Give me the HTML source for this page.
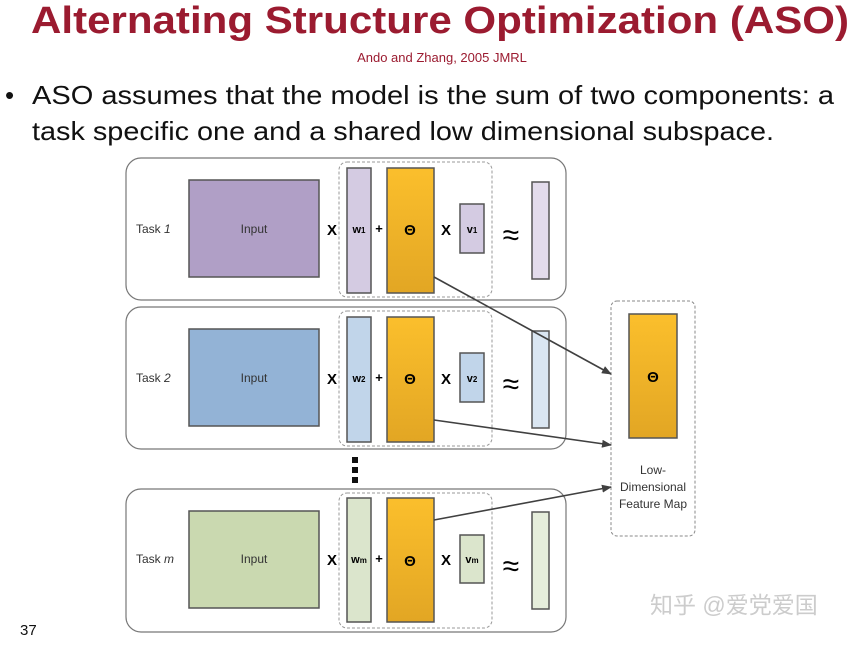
<!DOCTYPE html>
<html><head><style>
html,body{margin:0;padding:0;background:#fff;}
svg text{font-family:"Liberation Sans","Noto Sans CJK SC",sans-serif;}
</style></head><body>
<svg width="857" height="640" viewBox="0 0 857 640" xmlns="http://www.w3.org/2000/svg">
<defs>
<linearGradient id="og" x1="0" y1="0" x2="0" y2="1"><stop offset="0" stop-color="#fbbf2c"/><stop offset="1" stop-color="#e2a624"/></linearGradient>
<marker id="ah" markerWidth="10" markerHeight="8" refX="9" refY="4" orient="auto" markerUnits="userSpaceOnUse"><path d="M0,0 L10,4 L0,8 z" fill="#404040"/></marker>
</defs>
<text x="440" y="33" text-anchor="middle" font-size="38" font-weight="bold" fill="#9b1b30" textLength="818" lengthAdjust="spacingAndGlyphs">Alternating Structure Optimization (ASO)</text>
<text x="442" y="62" text-anchor="middle" font-size="13" fill="#9b1b30">Ando and Zhang, 2005 JMRL</text>
<text x="5" y="104" font-size="26" fill="#111">•</text>
<text x="32" y="104" font-size="26" fill="#111" textLength="802" lengthAdjust="spacingAndGlyphs">ASO assumes that the model is the sum of two components: a</text>
<text x="32" y="140" font-size="26" fill="#111" textLength="742" lengthAdjust="spacingAndGlyphs">task specific one and a shared low dimensional subspace.</text>

<g>
<rect x="126" y="158" width="440" height="142" rx="15" fill="#fff" stroke="#777" stroke-width="1.2"/>
<rect x="339" y="162" width="153" height="135" rx="8" fill="none" stroke="#999" stroke-dasharray="3,2"/>
<text x="136" y="233" font-size="12" fill="#333">Task <tspan font-style="italic">1</tspan></text>
<rect x="189" y="180" width="130" height="97" fill="#b09fc6" stroke="#555" stroke-width="1.5"/>
<text x="254" y="233" font-size="12" text-anchor="middle" fill="#333">Input</text>
<text x="332" y="235" font-size="15" font-weight="bold" text-anchor="middle">X</text>
<rect x="347" y="168" width="24" height="125" fill="#d4cbe2" stroke="#555" stroke-width="1.5"/>
<text x="359" y="233" font-size="11" font-weight="bold" text-anchor="middle">w<tspan font-size="8">1</tspan></text>
<text x="379" y="233" font-size="13" font-weight="bold" text-anchor="middle">+</text>
<rect x="387" y="168" width="47" height="125" fill="url(#og)" stroke="#555" stroke-width="1.5"/>
<text x="410" y="235" font-size="15" font-weight="bold" text-anchor="middle">Θ</text>
<text x="446" y="235" font-size="15" font-weight="bold" text-anchor="middle">X</text>
<rect x="460" y="204" width="24" height="49" fill="#d4cbe2" stroke="#555" stroke-width="1.5"/>
<text x="472" y="233" font-size="11" font-weight="bold" text-anchor="middle">v<tspan font-size="8">1</tspan></text>
<text x="511" y="245" font-size="30" text-anchor="middle">≈</text>
<rect x="532" y="182" width="17" height="97" fill="#e3dcec" stroke="#555" stroke-width="1.5"/>
</g>

<g>
<rect x="126" y="307" width="440" height="142" rx="15" fill="#fff" stroke="#777" stroke-width="1.2"/>
<rect x="339" y="311" width="153" height="135" rx="8" fill="none" stroke="#999" stroke-dasharray="3,2"/>
<text x="136" y="382" font-size="12" fill="#333">Task <tspan font-style="italic">2</tspan></text>
<rect x="189" y="329" width="130" height="97" fill="#93b3d6" stroke="#555" stroke-width="1.5"/>
<text x="254" y="382" font-size="12" text-anchor="middle" fill="#333">Input</text>
<text x="332" y="384" font-size="15" font-weight="bold" text-anchor="middle">X</text>
<rect x="347" y="317" width="24" height="125" fill="#c1d5ea" stroke="#555" stroke-width="1.5"/>
<text x="359" y="382" font-size="11" font-weight="bold" text-anchor="middle">w<tspan font-size="8">2</tspan></text>
<text x="379" y="382" font-size="13" font-weight="bold" text-anchor="middle">+</text>
<rect x="387" y="317" width="47" height="125" fill="url(#og)" stroke="#555" stroke-width="1.5"/>
<text x="410" y="384" font-size="15" font-weight="bold" text-anchor="middle">Θ</text>
<text x="446" y="384" font-size="15" font-weight="bold" text-anchor="middle">X</text>
<rect x="460" y="353" width="24" height="49" fill="#c1d5ea" stroke="#555" stroke-width="1.5"/>
<text x="472" y="382" font-size="11" font-weight="bold" text-anchor="middle">v<tspan font-size="8">2</tspan></text>
<text x="511" y="394" font-size="30" text-anchor="middle">≈</text>
<rect x="532" y="331" width="17" height="97" fill="#dae6f2" stroke="#555" stroke-width="1.5"/>
</g>

<g fill="#111"><rect x="352" y="457" width="6" height="6"/><rect x="352" y="467" width="6" height="6"/><rect x="352" y="477" width="6" height="6"/></g>

<g>
<rect x="126" y="489" width="440" height="143" rx="15" fill="#fff" stroke="#777" stroke-width="1.2"/>
<rect x="339" y="493" width="153" height="135" rx="8" fill="none" stroke="#999" stroke-dasharray="3,2"/>
<text x="136" y="563" font-size="12" fill="#333">Task <tspan font-style="italic">m</tspan></text>
<rect x="189" y="511" width="130" height="97" fill="#cad9b0" stroke="#555" stroke-width="1.5"/>
<text x="254" y="563" font-size="12" text-anchor="middle" fill="#333">Input</text>
<text x="332" y="565" font-size="15" font-weight="bold" text-anchor="middle">X</text>
<rect x="347" y="498" width="24" height="124" fill="#dbe5cc" stroke="#555" stroke-width="1.5"/>
<text x="359" y="563" font-size="11" font-weight="bold" text-anchor="middle">w<tspan font-size="8">m</tspan></text>
<text x="379" y="563" font-size="13" font-weight="bold" text-anchor="middle">+</text>
<rect x="387" y="498" width="47" height="124" fill="url(#og)" stroke="#555" stroke-width="1.5"/>
<text x="410" y="566" font-size="15" font-weight="bold" text-anchor="middle">Θ</text>
<text x="446" y="565" font-size="15" font-weight="bold" text-anchor="middle">X</text>
<rect x="460" y="535" width="24" height="48" fill="#dbe5cc" stroke="#555" stroke-width="1.5"/>
<text x="472" y="563" font-size="11" font-weight="bold" text-anchor="middle">v<tspan font-size="8">m</tspan></text>
<text x="511" y="576" font-size="30" text-anchor="middle">≈</text>
<rect x="532" y="512" width="17" height="97" fill="#e6eedc" stroke="#555" stroke-width="1.5"/>
</g>

<rect x="611" y="301" width="84" height="235" rx="6" fill="none" stroke="#888" stroke-dasharray="3,2"/>
<rect x="629" y="314" width="48" height="124" fill="url(#og)" stroke="#555" stroke-width="1.5"/>
<text x="653" y="382" font-size="15" font-weight="bold" text-anchor="middle">Θ</text>
<text x="653" y="474" font-size="12" text-anchor="middle" fill="#333">Low-</text>
<text x="653" y="491" font-size="12" text-anchor="middle" fill="#333">Dimensional</text>
<text x="653" y="508" font-size="12" text-anchor="middle" fill="#333">Feature Map</text>

<g stroke="#404040" stroke-width="1.6" fill="none" marker-end="url(#ah)">
<line x1="434" y1="277" x2="611" y2="374"/>
<line x1="434" y1="420" x2="611" y2="445"/>
<line x1="434" y1="520" x2="611" y2="487"/>
</g>

<text x="20" y="635" font-size="15" fill="#111">37</text>
<text x="650" y="613" font-size="23" fill="#ccc">知乎 @爱党爱国</text>
</svg>
</body></html>
